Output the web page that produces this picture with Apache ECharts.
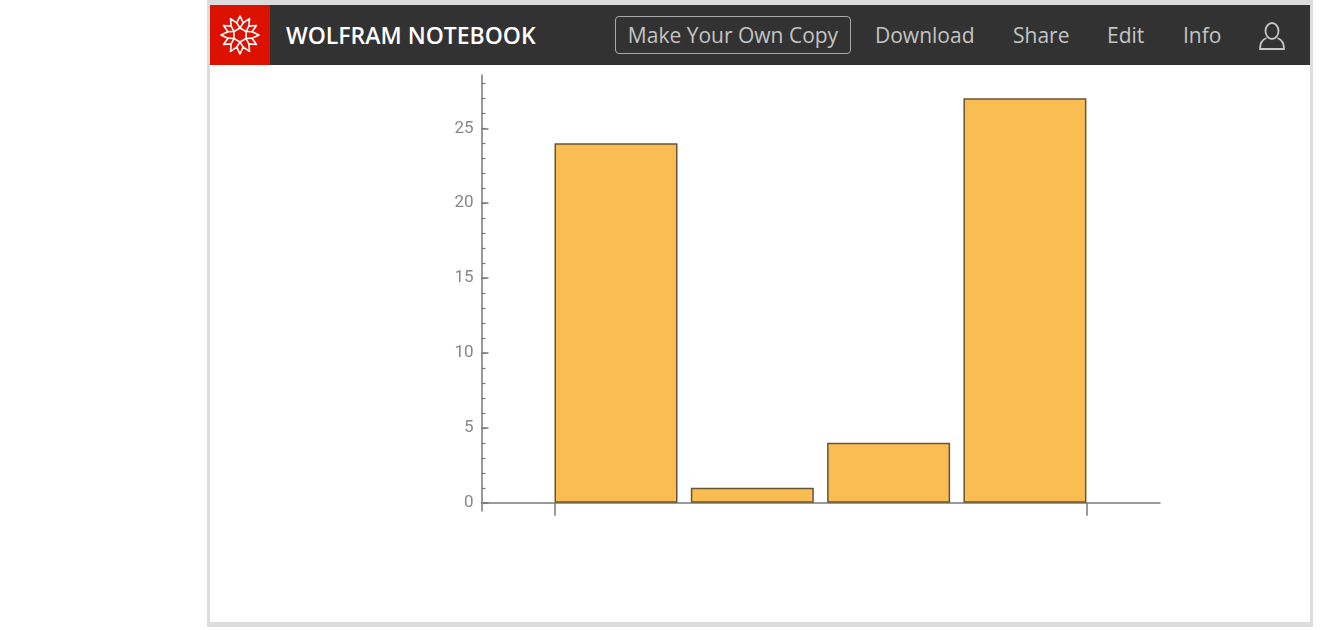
<!DOCTYPE html>
<html>
<head>
<meta charset="utf-8">
<script src="https://cdn.jsdelivr.net/npm/echarts@6/dist/echarts.min.js"></script>
<style>
  html, body { margin: 0; padding: 0; background: #ffffff; width: 1340px; height: 630px; overflow: hidden; }
  #frame { position: absolute; left: 207px; top: 0; width: 1106px; height: 627px; background: #dcdcdc; }
  #inner { position: absolute; left: 210px; top: 5px; width: 1100px; height: 617px; background: #ffffff; }
  #header { position: absolute; left: 210px; top: 5px; width: 1100px; height: 60px; background: #323232; font-family: "Open Sans", "Noto Sans", sans-serif; }
  #logo { position: absolute; left: 0; top: 0; width: 60px; height: 60px; background: #dd1100; }
  #title { position: absolute; left: 76px; top: 0; height: 60px; line-height: 60px; color: #ffffff; font-size: 23px; font-weight: 600; letter-spacing: 0px; white-space: nowrap; }
  .nav { position: absolute; top: 0; height: 60px; line-height: 60px; color: #c4c4c4; font-size: 21px; white-space: nowrap; }
  #copy { position: absolute; left: 405px; top: 11px; width: 234px; height: 36px; border: 1.5px solid #a8a8a8; border-radius: 4px; line-height: 36px; text-align: center; color: #c4c4c4; font-size: 21px; white-space: nowrap; }
  #chart { position: absolute; left: 0; top: 0; width: 1340px; height: 630px; }
</style>
</head>
<body>
<div id="frame"></div>
<div id="inner"></div>
<div id="header">
  <div id="logo">
    <svg width="60" height="60" viewBox="0 0 60 60">
      <g fill="none" stroke="#ffffff" stroke-width="1.6" stroke-linejoin="round">
        <polygon id="star" points=""/>
        <polygon id="inner6" points=""/>
        <g id="spokes"></g>
      </g>
    </svg>
  </div>
  <div id="title">WOLFRAM NOTEBOOK</div>
  <div id="copy">Make Your Own Copy</div>
  <div class="nav" style="left:665px;">Download</div>
  <div class="nav" style="left:803px;">Share</div>
  <div class="nav" style="left:897px;">Edit</div>
  <div class="nav" style="left:973px;">Info</div>
  <svg style="position:absolute;left:1047px;top:16px;" width="30" height="30" viewBox="0 0 30 30">
    <g fill="none" stroke="#c4c4c4" stroke-width="1.8">
      <ellipse cx="15" cy="10" rx="6.5" ry="8"/>
      <path d="M9.5 17 C4 19 3 23 3 28 L27 28 C27 23 26 19 20.5 17"/>
    </g>
  </svg>
</div>
<div id="chart"></div>
<script>
// ---- data ----
var binCenters = [1, 2, 3, 4];
var counts = [24, 1, 4, 27];
var yTickLabels = [0, 5, 10, 15, 20, 25];
var yMinorTicks = [0,1,2,3,4,5,6,7,8,9,10,11,12,13,14,15,16,17,18,19,20,21,22,23,24,25,26,27,28];
var xTickMarks = [0.55, 4.45];

// ---- logo drawing ----
(function () {
  var cx = 30, cy = 30, pts = [], n = 12;
  for (var i = 0; i < n * 2; i++) {
    var r = (i % 2 === 0) ? 19 : 12.5;
    var a = Math.PI * i / n - Math.PI / 2;
    pts.push((cx + r * Math.cos(a)).toFixed(2) + ',' + (cy + r * Math.sin(a)).toFixed(2));
  }
  document.getElementById('star').setAttribute('points', pts.join(' '));
  var p6 = [];
  for (var j = 0; j < 6; j++) {
    var b = Math.PI * j / 3 - Math.PI / 2;
    p6.push((cx + 7 * Math.cos(b)).toFixed(2) + ',' + (cy + 7 * Math.sin(b)).toFixed(2));
  }
  document.getElementById('inner6').setAttribute('points', p6.join(' '));
  var g = document.getElementById('spokes'), html = '';
  for (var k = 0; k < 6; k++) {
    var c = Math.PI * k / 3 - Math.PI / 2;
    html += '<line x1="' + (cx + 7 * Math.cos(c)).toFixed(2) + '" y1="' + (cy + 7 * Math.sin(c)).toFixed(2) +
            '" x2="' + (cx + 12.5 * Math.cos(c + Math.PI / 12)).toFixed(2) + '" y2="' + (cy + 12.5 * Math.sin(c + Math.PI / 12)).toFixed(2) + '"/>';
    html += '<line x1="' + (cx + 7 * Math.cos(c)).toFixed(2) + '" y1="' + (cy + 7 * Math.sin(c)).toFixed(2) +
            '" x2="' + (cx + 12.5 * Math.cos(c - Math.PI / 12)).toFixed(2) + '" y2="' + (cy + 12.5 * Math.sin(c - Math.PI / 12)).toFixed(2) + '"/>';
  }
  g.innerHTML = html;
})();

// ---- chart ----
var chart = echarts.init(document.getElementById('chart'), null, { renderer: 'canvas' });
var axisGray = '#7a7a7a';
chart.setOption({
  animation: false,
  backgroundColor: 'transparent',
  grid: { left: 481.5, right: 180, top: 75, bottom: 119, containLabel: false },
  xAxis: {
    type: 'value', min: 0.0132, max: 4.991,
    axisLine: { show: true, onZero: true, lineStyle: { color: axisGray, width: 1.5 } },
    axisTick: { show: true, inside: false, length: 13, customValues: xTickMarks, lineStyle: { color: axisGray, width: 1.5 } },
    axisLabel: { show: false },
    splitLine: { show: false }
  },
  yAxis: [
    {
      type: 'value', min: -0.55, max: 28.56,
      axisLine: { show: true, lineStyle: { color: axisGray, width: 1.5 } },
      axisTick: { show: true, inside: true, length: 7, customValues: yTickLabels, lineStyle: { color: axisGray, width: 1.5 } },
      axisLabel: { show: true, customValues: yTickLabels, margin: 8, color: '#888888', fontSize: 17, fontFamily: 'Roboto, "DejaVu Sans", sans-serif' },
      splitLine: { show: false }
    },
    {
      type: 'value', min: -0.55, max: 28.56, position: 'left', offset: 0,
      axisLine: { show: false },
      axisTick: { show: true, inside: true, length: 4, customValues: yMinorTicks, lineStyle: { color: axisGray, width: 1.2 } },
      axisLabel: { show: false },
      splitLine: { show: false }
    }
  ],
  series: [{
    type: 'bar',
    xAxisIndex: 0, yAxisIndex: 0,
    barWidth: 123,
    data: binCenters.map(function (x, i) { return [x, counts[i]]; }),
    itemStyle: { color: '#fabd52', borderColor: '#675535', borderWidth: 1.5 }
  }]
});
</script>
</body>
</html>
